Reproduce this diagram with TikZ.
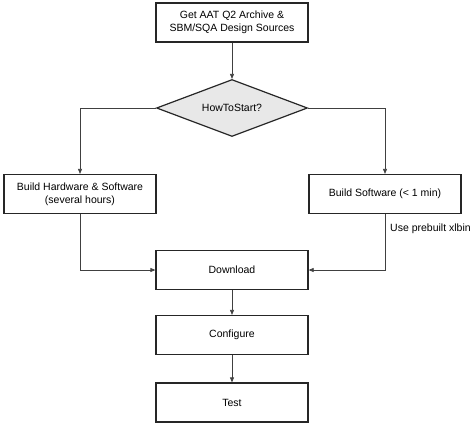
\documentclass[tikz,border=0pt]{standalone}
\usepackage{fontspec}
\setmainfont{Liberation Sans}
\usetikzlibrary{shapes.geometric,arrows.meta}
\begin{document}
\begin{tikzpicture}[x=1pt,y=-1pt,
  box/.style={draw=black!85,line width=1.2pt,minimum width=152pt,minimum height=39pt,inner sep=0pt,align=center,font=\fontsize{10.5}{13}\selectfont},
  dec/.style={draw=black!85,line width=1.2pt,fill=black!9,diamond,aspect=2.65,minimum width=151pt,minimum height=57pt,inner sep=0pt,font=\fontsize{10.5}{13}\selectfont},
  conn/.style={draw=black!75,line width=0.7pt,-{Triangle[length=5pt,width=4pt]}}]
\useasboundingbox (0,0) rectangle (474,424);
\node[box] (get) at (232,22.5) {Get AAT Q2 Archive \&\\SBM/SQA Design Sources};
\node[dec] (how) at (232,108) {HowToStart?};
\node[box] (hw) at (80,194) {Build Hardware \& Software\\(several hours)};
\node[box] (sw) at (385,194) {Build Software (< 1 min)};
\node[box] (dl) at (232,270) {Download};
\node[box] (cf) at (232,335) {Configure};
\node[box] (ts) at (232,402.5) {Test};
\node[font=\fontsize{10.5}{13}\selectfont,anchor=west,inner sep=0pt] (lbl) at (390,229) {Use prebuilt xlbin};
\draw[conn] (get) -- (how);
\draw[conn] (how.west) -| (hw.north);
\draw[conn] (how.east) -| (sw.north);
\draw[conn] (hw.south) |- (dl.west);
\draw[conn] (sw.south) |- (dl.east);
\draw[conn] (dl) -- (cf);
\draw[conn] (cf) -- (ts);
\end{tikzpicture}
\end{document}
